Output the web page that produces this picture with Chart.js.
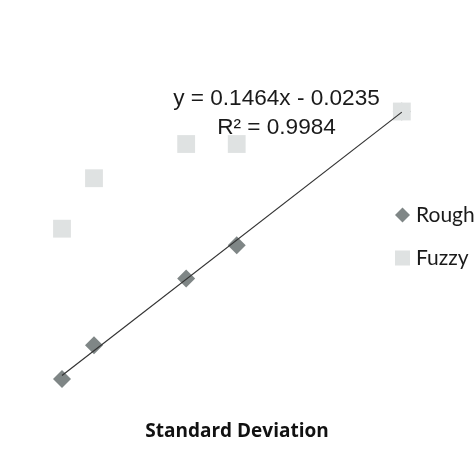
<!DOCTYPE html>
<html><head><meta charset="utf-8">
<script src="https://cdn.jsdelivr.net/npm/chart.js@4.4.1/dist/chart.umd.min.js"></script>
<style>html,body{margin:0;padding:0;background:#fff;overflow:hidden}</style>
</head><body>
<canvas id="c" width="474" height="474"></canvas>
<script>
const seriesNames = ['Rough', 'Fuzzy'];
const xValues = [0.5, 1.0, 2.44, 3.23, 5.81];
const roughValues = [0.039, 0.139, 0.336, 0.434, 0.829];
const fuzzyValues = [0.483, 0.632, 0.733, 0.733, 0.829];
const trendCoefficients = [0.1464, -0.0235];
const trendLabels = ['y = 0.1464x - 0.0235', 'R\u00B2 = 0.9984'];
const xAxisTitle = 'Standard Deviation';

const roughColor = '#7f8686';
const fuzzyColor = '#dfe2e2';

const pts = (ys) => xValues.map((x, i) => ({x: x, y: ys[i]}));
const xEnds = [xValues[0], xValues[xValues.length - 1]];
const trendPts = xEnds.map(x => ({x: x, y: trendCoefficients[0] * x + trendCoefficients[1]}));

const overlay = {
  id: 'overlay',
  afterDraw(chart) {
    const ctx = chart.ctx;
    ctx.save();
    // equation
    ctx.fillStyle = '#1a1a1a';
    ctx.font = '22.6px "Liberation Sans", Arial, sans-serif';
    ctx.textAlign = 'center';
    ctx.textBaseline = 'middle';
    ctx.fillText(trendLabels[0], 276.5, 98.5);
    ctx.fillText(trendLabels[1], 276.5, 127.5);
    // legend
    const lx = 402.5;
    const rows = [215, 258];
    ctx.fillStyle = roughColor;
    ctx.beginPath();
    const r = 7.5;
    ctx.moveTo(lx, rows[0] - r); ctx.lineTo(lx + r, rows[0]); ctx.lineTo(lx, rows[0] + r); ctx.lineTo(lx - r, rows[0]);
    ctx.closePath(); ctx.fill();
    ctx.fillStyle = fuzzyColor;
    ctx.fillRect(lx - 7.5, rows[1] - 7.5, 15, 15);
    ctx.fillStyle = '#1a1a1a';
    ctx.font = '21px Lato, sans-serif';
    ctx.textAlign = 'left';
    ctx.fillText(seriesNames[0], 416, rows[0]);
    ctx.fillText(seriesNames[1], 416, rows[1]);
    ctx.restore();
  }
};

new Chart(document.getElementById('c'), {
  type: 'scatter',
  data: {
    datasets: [
      {label: seriesNames[0], data: pts(roughValues), pointStyle: 'rectRot', pointRadius: 9, pointHoverRadius: 9,
       backgroundColor: roughColor, borderColor: roughColor, borderWidth: 0, order: 2, clip: false},
      {label: seriesNames[1], data: pts(fuzzyValues), pointStyle: 'rect', pointRadius: 12.6, pointHoverRadius: 12.6,
       backgroundColor: fuzzyColor, borderColor: fuzzyColor, borderWidth: 0, order: 1, clip: false},
      {label: 'Linear (Rough)', type: 'line', data: trendPts, showLine: true, pointRadius: 0,
       borderColor: '#333333', borderWidth: 1.2, fill: false, order: 0, clip: false}
    ]
  },
  options: {
    responsive: false,
    animation: false,
    events: [],
    layout: {padding: 0, autoPadding: false},
    scales: {
      x: {type: 'linear', display: false, min: -0.46875, max: 6.9375},
      y: {type: 'linear', display: false, min: -0.0836, max: 1.1582}
    },
    plugins: {
      legend: {display: false},
      tooltip: {enabled: false},
      title: {display: true, position: 'bottom', text: xAxisTitle, color: '#111111',
              font: {family: '"Open Sans", sans-serif', size: 19, weight: 'bold', lineHeight: 1.2},
              padding: {top: 0, bottom: 30.6}}
    }
  },
  plugins: [overlay]
});
</script>
</body></html>
